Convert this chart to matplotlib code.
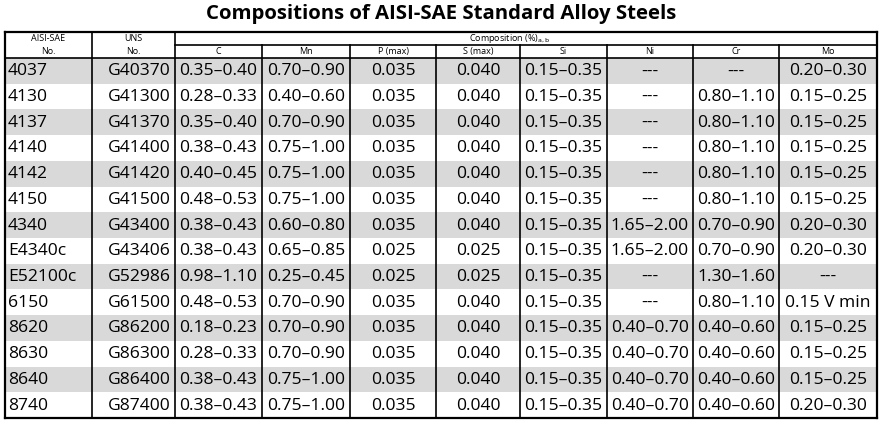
import matplotlib
matplotlib.use("Agg")
import matplotlib.pyplot as plt

TITLE = "Compositions of AISI-SAE Standard Alloy Steels"
elements = ["C", "Mn", "P (max)", "S (max)", "Si", "Ni", "Cr", "Mo"]
aisi = ["4037", "4130", "4137", "4140", "4142", "4150", "4340", "E4340c",
        "E52100c", "6150", "8620", "8630", "8640", "8740"]
uns = ["G40370", "G41300", "G41370", "G41400", "G41420", "G41500", "G43400",
       "G43406", "G52986", "G61500", "G86200", "G86300", "G86400", "G87400"]
comp = [
    ["0.35–0.40", "0.70–0.90", "0.035", "0.040", "0.15–0.35", "---", "---", "0.20–0.30"],
    ["0.28–0.33", "0.40–0.60", "0.035", "0.040", "0.15–0.35", "---", "0.80–1.10", "0.15–0.25"],
    ["0.35–0.40", "0.70–0.90", "0.035", "0.040", "0.15–0.35", "---", "0.80–1.10", "0.15–0.25"],
    ["0.38–0.43", "0.75–1.00", "0.035", "0.040", "0.15–0.35", "---", "0.80–1.10", "0.15–0.25"],
    ["0.40–0.45", "0.75–1.00", "0.035", "0.040", "0.15–0.35", "---", "0.80–1.10", "0.15–0.25"],
    ["0.48–0.53", "0.75–1.00", "0.035", "0.040", "0.15–0.35", "---", "0.80–1.10", "0.15–0.25"],
    ["0.38–0.43", "0.60–0.80", "0.035", "0.040", "0.15–0.35", "1.65–2.00", "0.70–0.90", "0.20–0.30"],
    ["0.38–0.43", "0.65–0.85", "0.025", "0.025", "0.15–0.35", "1.65–2.00", "0.70–0.90", "0.20–0.30"],
    ["0.98–1.10", "0.25–0.45", "0.025", "0.025", "0.15–0.35", "---", "1.30–1.60", "---"],
    ["0.48–0.53", "0.70–0.90", "0.035", "0.040", "0.15–0.35", "---", "0.80–1.10", "0.15 V min"],
    ["0.18–0.23", "0.70–0.90", "0.035", "0.040", "0.15–0.35", "0.40–0.70", "0.40–0.60", "0.15–0.25"],
    ["0.28–0.33", "0.70–0.90", "0.035", "0.040", "0.15–0.35", "0.40–0.70", "0.40–0.60", "0.15–0.25"],
    ["0.38–0.43", "0.75–1.00", "0.035", "0.040", "0.15–0.35", "0.40–0.70", "0.40–0.60", "0.15–0.25"],
    ["0.38–0.43", "0.75–1.00", "0.035", "0.040", "0.15–0.35", "0.40–0.70", "0.40–0.60", "0.20–0.30"],
]

W, H = 882, 422
fig = plt.figure(figsize=(W / 100, H / 100), dpi=100)
ax = fig.add_axes([0, 0, 1, 1])
ax.set_xlim(0, W)
ax.set_ylim(H, 0)
ax.axis("off")

FONT = "Open Sans"
cols = [5, 92, 175, 262, 350, 436, 520, 607, 693, 779, 877]
top, h1, h2 = 32, 45, 58
bottom = 418
rh = (bottom - h2) / len(aisi)
fs = 12.6

ax.text(W / 2, 14, TITLE, ha="center", va="center", fontsize=14.7,
        fontweight="bold", family=FONT)

# shaded rows
for i in range(len(aisi)):
    y0 = h2 + i * rh
    if i % 2 == 0:
        ax.add_patch(plt.Rectangle((cols[0], y0), cols[-1] - cols[0], rh,
                                   color="#d9d9d9", lw=0))
    yc = y0 + rh / 2 + 0.5
    ax.text(cols[0] + 3, yc, aisi[i], ha="left", va="center", fontsize=fs, family=FONT)
    ax.text(cols[2] - 4, yc, uns[i], ha="right", va="center", fontsize=fs, family=FONT)
    for j, v in enumerate(comp[i]):
        ax.text((cols[j + 2] + cols[j + 3]) / 2, yc, v, ha="center", va="center",
                fontsize=fs, family=FONT)

# header texts
hs = 6.5
ax.text((cols[0] + cols[1]) / 2, 38.5, "AISI-SAE", ha="center", va="center", fontsize=hs, family=FONT)
ax.text((cols[0] + cols[1]) / 2, 51.5, "No.", ha="center", va="center", fontsize=hs, family=FONT)
ax.text((cols[1] + cols[2]) / 2, 38.5, "UNS", ha="center", va="center", fontsize=hs, family=FONT)
ax.text((cols[1] + cols[2]) / 2, 51.5, "No.", ha="center", va="center", fontsize=hs, family=FONT)
ax.text(510, 38.5, "Composition (%)$_{\\mathrm{a,b}}$", ha="center", va="center", fontsize=hs, family=FONT)
for j, e in enumerate(elements):
    ax.text((cols[j + 2] + cols[j + 3]) / 2, 51.5, e, ha="center", va="center", fontsize=hs, family=FONT)

# grid lines
lw = 1.6
ax.plot([cols[0], cols[-1]], [top, top], color="black", lw=lw)
ax.plot([cols[0], cols[-1]], [bottom, bottom], color="black", lw=lw)
ax.plot([cols[2], cols[-1]], [h1, h1], color="black", lw=1.2)
ax.plot([cols[0], cols[-1]], [h2, h2], color="black", lw=1.2)
for k, x in enumerate(cols):
    y0 = top if k in (0, 1, 2, len(cols) - 1) else h1
    ax.plot([x, x], [y0, bottom], color="black", lw=lw if k in (0, len(cols) - 1) else 1.2)

fig.savefig("out.png", dpi=100, facecolor="white")
